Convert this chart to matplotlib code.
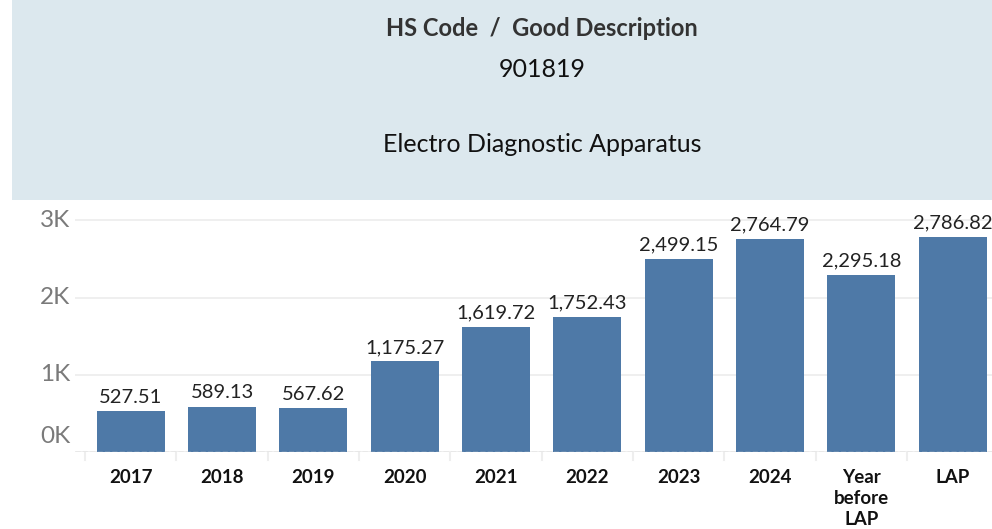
import matplotlib.pyplot as plt
import matplotlib
from matplotlib.patches import Rectangle

matplotlib.rcParams['font.family'] = ['Lato', 'DejaVu Sans']

categories = ['2017', '2018', '2019', '2020', '2021', '2022', '2023', '2024',
              'Year\nbefore\nLAP', 'LAP']
values = [527.51, 589.13, 567.62, 1175.27, 1619.72, 1752.43, 2499.15, 2764.79,
          2295.18, 2786.82]
y_ticks = [0, 1000, 2000, 3000]
y_tick_labels = ['0K', '1K', '2K', '3K']

header_title = 'HS Code  /  Good Description'
hs_code = '901819'
description = 'Electro Diagnostic Apparatus'

bar_color = '#4e79a7'
header_bg = '#dce8ee'

fig = plt.figure(figsize=(9.92, 5.29), dpi=100)

# header panel
fig.patches.append(Rectangle((12 / 992, 1 - 200 / 529), 980 / 992, 200 / 529,
                             transform=fig.transFigure, facecolor=header_bg,
                             edgecolor='none', zorder=0))
fig.text(542 / 992, 1 - 29 / 529, header_title, ha='center', va='center',
         fontsize=17, fontweight='bold', color='#333333')
fig.text(542 / 992, 1 - 70 / 529, hs_code, ha='center', va='center',
         fontsize=18, color='#111111')
fig.text(542 / 992, 1 - 145 / 529, description, ha='center', va='center',
         fontsize=18, color='#111111')

# chart area
ax = fig.add_axes([75 / 992, 1 - 452 / 529, 917 / 992, 247 / 529])
x = list(range(len(categories)))
ax.bar(x, values, width=0.745, color=bar_color, zorder=2)
for xi, v in zip(x, values):
    ax.text(xi, v + 70, f'{v:,.2f}', ha='center', va='bottom', fontsize=14.5,
            color='#222222')

ax.set_ylim(0, 3200)
ax.set_xlim(-0.61, 9.43)
ax.set_yticks(y_ticks)
ax.set_yticklabels([])
ax.tick_params(axis='y', length=0)
# y labels drawn by hand: Tableau lifts the 0K label off the baseline
ytrans = ax.get_yaxis_transform()
for t, lbl in zip(y_ticks, y_tick_labels):
    ax.text(-0.005, max(t, 200), lbl, transform=ytrans, ha='right', va='center',
            fontsize=17.5, color='#7a7a7a')
ax.set_xticks(x)
ax.set_xticklabels(categories, fontweight='bold', fontsize=13.5, color='#111111',
                   linespacing=1.3)
ax.tick_params(axis='x', length=0, pad=12)
ax.grid(axis='y', color='#eeeeee', linewidth=1.3, zorder=0)
for s in ax.spines.values():
    s.set_visible(False)
ax.axhline(0, color='#cccccc', linestyle='--', linewidth=1, zorder=3)
for i in range(len(categories)):
    ax.plot([i - 0.5, i - 0.5], [0, -110], color='#eeeeee', linewidth=1.5,
            clip_on=False)

fig.savefig('out.png', dpi=100)
